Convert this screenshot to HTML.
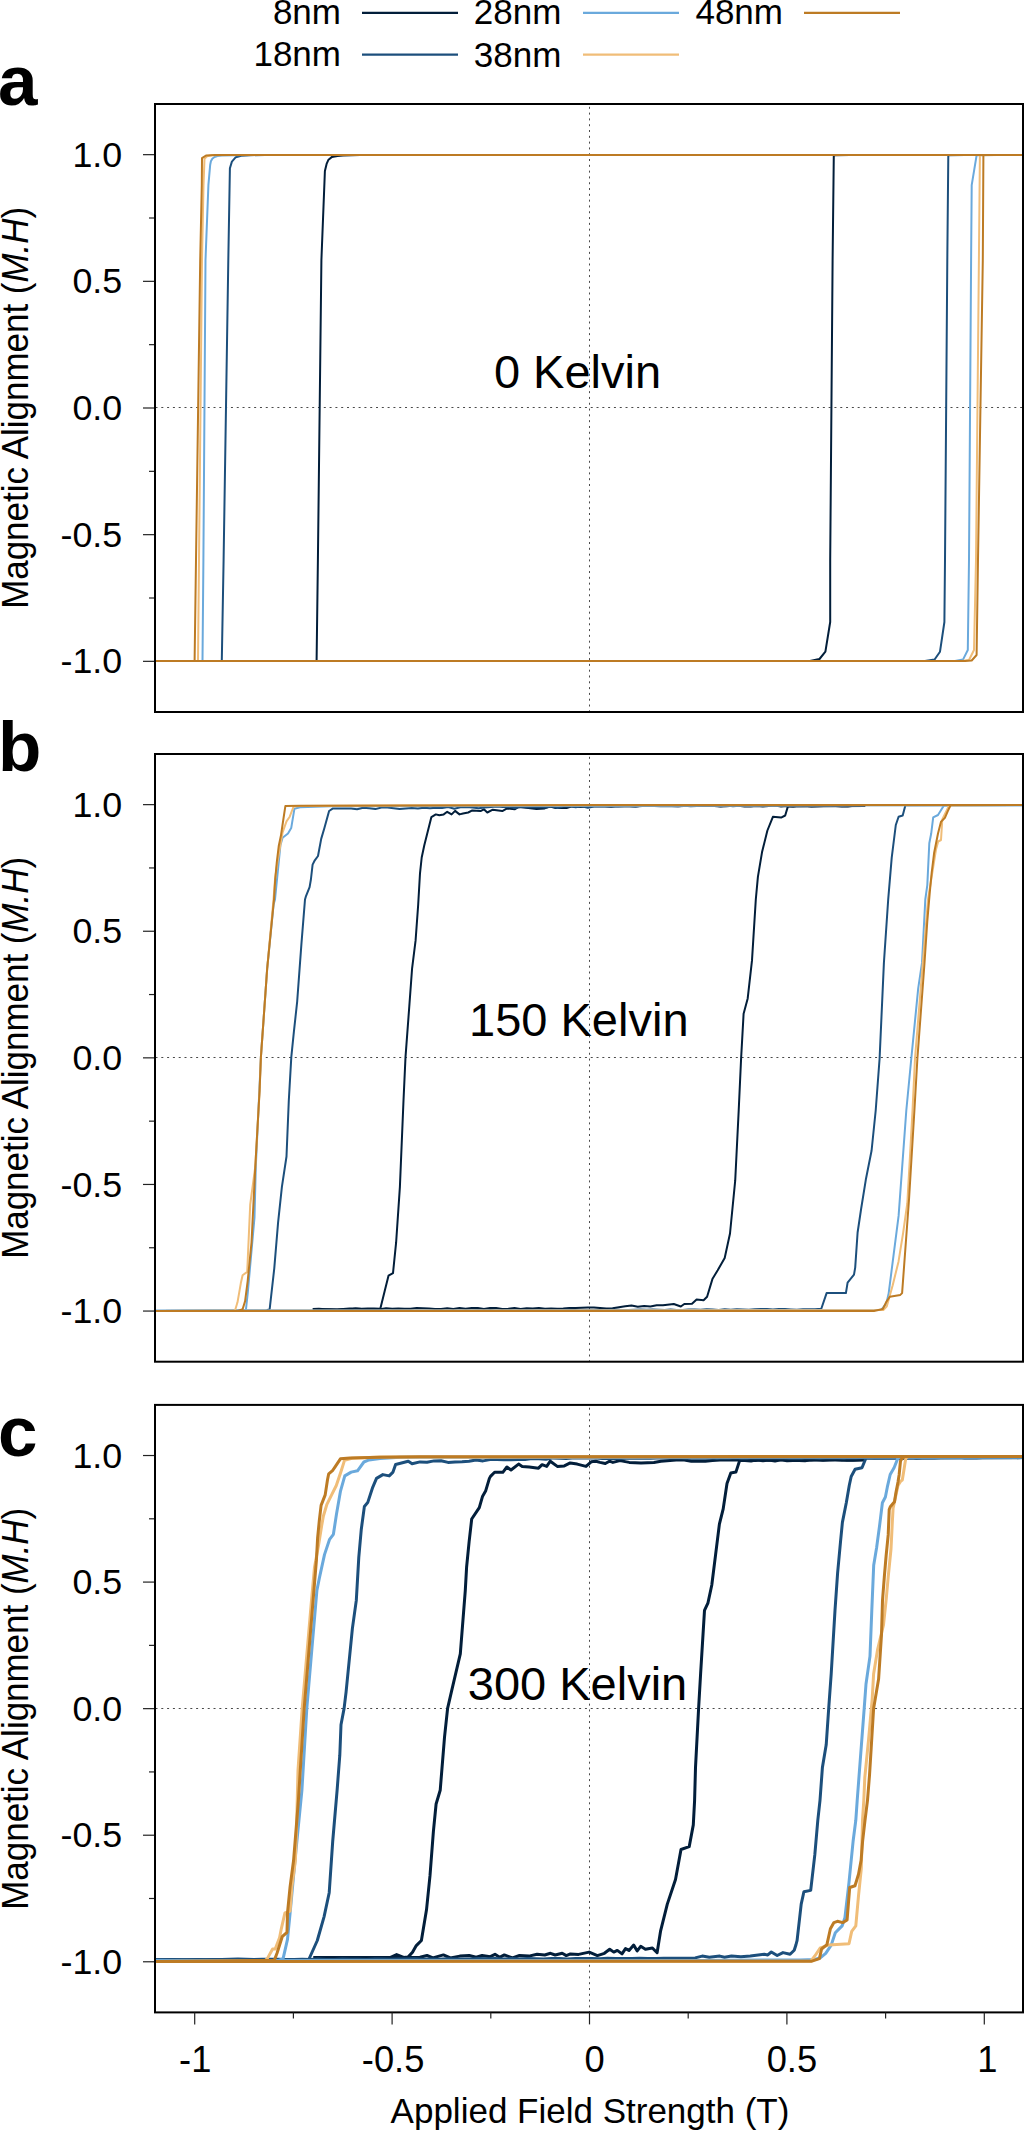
<!DOCTYPE html><html><head><meta charset="utf-8"><style>html,body{margin:0;padding:0;background:#fff;overflow:hidden;width:1025px;height:2131px;}svg{display:block;}text{font-family:'Liberation Sans', Arial, Helvetica, sans-serif;fill:#000;}</style></head><body>
<svg width="1025" height="2131" viewBox="0 0 1025 2131">
<rect width="1025" height="2131" fill="#fff"/>
<text x="341.0" y="24.0" font-size="35" text-anchor="end">8nm</text>
<line x1="362" y1="12.8" x2="458" y2="12.8" stroke="#021e3a" stroke-width="2.2"/>
<text x="341.0" y="66" font-size="35" text-anchor="end">18nm</text>
<line x1="362" y1="54.6" x2="458" y2="54.6" stroke="#1c4f7c" stroke-width="2.2"/>
<text x="561.3" y="24.4" font-size="35" text-anchor="end">28nm</text>
<line x1="583" y1="12.8" x2="679" y2="12.8" stroke="#6aa9dc" stroke-width="2.2"/>
<text x="561.3" y="66.5" font-size="35" text-anchor="end">38nm</text>
<line x1="583" y1="54.6" x2="679" y2="54.6" stroke="#f0bd78" stroke-width="2.2"/>
<text x="783.0" y="24.4" font-size="35" text-anchor="end">48nm</text>
<line x1="804" y1="12.8" x2="900" y2="12.8" stroke="#bd7b24" stroke-width="2.2"/>
<line x1="155.0" y1="407.5" x2="1023.0" y2="407.5" stroke="#4a4a4a" stroke-width="1" stroke-dasharray="2 3.803" stroke-dashoffset="-0.5"/>
<line x1="589.5" y1="104.0" x2="589.5" y2="712.0" stroke="#4a4a4a" stroke-width="1" stroke-dasharray="2 3.803" stroke-dashoffset="-2.8"/>
<text x="577.5" y="387.8" font-size="47" text-anchor="middle">0 Kelvin</text>
<polyline points="360.0,155.0 343.0,155.5 337.5,156.0 332.0,156.9 328.5,159.7 326.6,163.9 324.9,171.0 321.4,260.2 317.9,560.0 316.6,661.0 300.0,661.0" fill="none" stroke="#021e3a" stroke-width="2.0" stroke-linejoin="round" stroke-linecap="butt"/>
<polyline points="795.0,661.0 810.0,661.0 819.5,659.0 825.4,651.7 830.2,622.0 830.2,560.0 832.6,260.2 833.8,155.3 850.0,155.0" fill="none" stroke="#021e3a" stroke-width="2.0" stroke-linejoin="round" stroke-linecap="butt"/>
<polyline points="265.0,155.0 250.0,155.2 241.2,155.7 235.8,157.2 231.9,161.6 229.9,168.2 228.3,260.2 223.6,560.0 221.8,661.0 205.0,661.0" fill="none" stroke="#1c4f7c" stroke-width="2.0" stroke-linejoin="round" stroke-linecap="butt"/>
<polyline points="910.0,661.0 925.0,661.0 934.6,659.5 940.0,651.7 944.4,622.0 945.0,560.0 947.3,260.2 948.3,155.3 965.0,155.0" fill="none" stroke="#1c4f7c" stroke-width="2.0" stroke-linejoin="round" stroke-linecap="butt"/>
<polyline points="250.0,155.0 235.0,155.2 222.0,155.6 217.5,156.1 214.5,157.0 212.3,158.7 210.9,161.2 210.2,164.7 208.4,185.2 205.5,260.2 203.4,560.0 202.5,661.0 185.0,661.0" fill="none" stroke="#6aa9dc" stroke-width="2.0" stroke-linejoin="round" stroke-linecap="butt"/>
<polyline points="940.0,661.0 955.0,661.0 963.0,659.6 967.8,650.0 969.0,560.0 971.1,260.2 971.7,185.2 976.6,155.3 995.0,155.0" fill="none" stroke="#6aa9dc" stroke-width="2.0" stroke-linejoin="round" stroke-linecap="butt"/>
<polyline points="230.0,155.0 212.0,155.2 207.0,156.2 204.5,158.7 203.5,185.2 202.0,260.2 199.0,560.0 198.0,661.0 180.0,661.0" fill="none" stroke="#f0bd78" stroke-width="2.0" stroke-linejoin="round" stroke-linecap="butt"/>
<polyline points="945.0,661.0 962.0,661.0 969.0,660.0 974.0,650.0 976.0,560.0 978.9,260.2 979.9,155.3 998.0,155.0" fill="none" stroke="#f0bd78" stroke-width="2.0" stroke-linejoin="round" stroke-linecap="butt"/>
<polyline points="1023.0,155.0 215.0,155.0 206.0,155.5 202.0,158.2 201.8,185.2 200.2,260.2 196.0,560.0 194.6,661.0 155.5,661.0" fill="none" stroke="#bd7b24" stroke-width="2.0" stroke-linejoin="round" stroke-linecap="butt"/>
<polyline points="155.5,661.0 965.0,661.0 971.7,660.5 976.6,655.0 978.0,560.0 982.8,260.2 983.4,155.0 1023.0,155.0" fill="none" stroke="#bd7b24" stroke-width="2.0" stroke-linejoin="round" stroke-linecap="butt"/>
<line x1="143.0" y1="661.3333333333334" x2="155.0" y2="661.3333333333334" stroke="#222" stroke-width="1.2"/>
<text x="122.2" y="673.4333333333334" font-size="35.8" text-anchor="end">-1.0</text>
<line x1="149.0" y1="598.0" x2="155.0" y2="598.0" stroke="#222" stroke-width="1.2"/>
<line x1="143.0" y1="534.6666666666666" x2="155.0" y2="534.6666666666666" stroke="#222" stroke-width="1.2"/>
<text x="122.2" y="546.7666666666667" font-size="35.8" text-anchor="end">-0.5</text>
<line x1="149.0" y1="471.33333333333337" x2="155.0" y2="471.33333333333337" stroke="#222" stroke-width="1.2"/>
<line x1="143.0" y1="408.0" x2="155.0" y2="408.0" stroke="#222" stroke-width="1.2"/>
<text x="122.2" y="420.1" font-size="35.8" text-anchor="end">0.0</text>
<line x1="149.0" y1="344.6666666666667" x2="155.0" y2="344.6666666666667" stroke="#222" stroke-width="1.2"/>
<line x1="143.0" y1="281.3333333333333" x2="155.0" y2="281.3333333333333" stroke="#222" stroke-width="1.2"/>
<text x="122.2" y="293.43333333333334" font-size="35.8" text-anchor="end">0.5</text>
<line x1="149.0" y1="218.0" x2="155.0" y2="218.0" stroke="#222" stroke-width="1.2"/>
<line x1="143.0" y1="154.66666666666666" x2="155.0" y2="154.66666666666666" stroke="#222" stroke-width="1.2"/>
<text x="122.2" y="166.76666666666665" font-size="35.8" text-anchor="end">1.0</text>
<rect x="155.0" y="104.0" width="868.0" height="608.0" fill="none" stroke="#000" stroke-width="2.0"/>
<text x="-2" y="105.3" font-size="71" font-weight="bold">a</text>
<text transform="translate(27.8,407.85) rotate(-90)" font-size="37.5" text-anchor="middle" textLength="402" lengthAdjust="spacingAndGlyphs">Magnetic Alignment (<tspan font-style="italic">M.H</tspan>)</text>
<line x1="155.0" y1="1057.5" x2="1023.0" y2="1057.5" stroke="#4a4a4a" stroke-width="1" stroke-dasharray="2 3.803" stroke-dashoffset="-0.5"/>
<line x1="589.5" y1="754.0" x2="589.5" y2="1361.7" stroke="#4a4a4a" stroke-width="1" stroke-dasharray="2 3.803" stroke-dashoffset="-2.8"/>
<text x="578.8" y="1035.7" font-size="47" text-anchor="middle">150 Kelvin</text>
<polyline points="865.2,806.0 853.9,805.7 847.9,806.5 841.8,806.4 835.7,805.9 829.6,806.1 823.6,806.1 817.5,806.3 811.4,806.4 805.4,805.7 799.3,805.6 793.2,806.5 787.1,806.1 781.1,806.4 775.0,805.6 768.9,806.1 762.9,806.4 756.8,805.9 750.7,806.6 744.6,806.5 738.6,805.7 732.5,805.7 726.4,806.2 720.4,806.6 714.3,806.0 708.2,805.9 702.1,806.1 696.1,805.7 690.0,805.9 683.9,806.1 677.9,806.2 671.8,805.9 665.7,805.9 659.6,805.9 653.6,806.1 647.5,806.0 641.4,805.7 635.4,806.5 629.3,806.2 623.2,806.3 617.1,805.9 611.1,806.7 605.0,806.2 600.0,806.1 589.8,806.3 580.2,807.0 572.0,806.3 566.6,808.0 555.6,808.0 550.2,806.6 544.7,808.4 536.5,809.1 528.3,808.0 518.7,807.0 514.6,809.3 507.1,808.4 502.3,811.1 492.8,809.7 487.3,812.5 483.9,809.3 480.5,811.1 472.3,810.4 468.2,812.5 463.0,813.5 459.5,814.4 455.1,810.9 451.6,814.4 447.2,811.8 443.7,814.4 439.3,815.3 435.8,814.4 431.4,817.1 427.0,834.6 424.3,845.2 421.7,857.5 420.0,873.3 418.2,904.5 415.6,940.4 412.1,968.3 409.3,1006.3 405.5,1057.1 403.5,1100.5 399.9,1186.9 396.1,1242.7 393.0,1273.1 388.5,1275.7 384.7,1290.9 380.3,1308.7 373.9,1308.6 367.8,1308.5 361.7,1308.8 355.6,1308.6 349.5,1308.5 343.3,1308.9 337.2,1309.4 331.1,1309.3 325.0,1309.3 318.9,1308.8 312.8,1309.1" fill="none" stroke="#021e3a" stroke-width="2.0" stroke-linejoin="round" stroke-linecap="butt"/>
<polyline points="312.8,1309.1 318.9,1309.2 325.0,1309.3 331.1,1309.4 337.2,1309.5 343.4,1309.3 349.5,1309.5 355.6,1308.4 361.7,1308.9 367.8,1309.4 373.9,1309.0 380.0,1309.3 386.1,1308.3 392.2,1308.8 398.3,1308.5 404.5,1308.8 410.6,1308.8 416.7,1308.1 422.8,1308.3 428.9,1308.4 435.0,1309.1 441.1,1308.9 447.2,1308.2 453.3,1308.9 459.5,1308.1 465.6,1308.7 471.7,1308.0 477.8,1307.9 483.9,1308.9 490.0,1308.1 496.1,1308.1 502.2,1309.0 508.3,1308.8 514.5,1308.1 520.6,1308.9 526.7,1308.3 532.8,1308.5 538.9,1307.9 545.0,1308.7 551.1,1308.4 557.2,1308.7 563.3,1308.6 569.4,1307.9 575.6,1307.9 581.7,1307.7 587.8,1307.6 593.9,1307.5 600.0,1308.0 606.3,1308.4 612.6,1308.2 618.9,1307.2 625.2,1306.3 631.5,1305.5 637.8,1306.8 644.1,1306.0 650.4,1306.5 656.7,1305.3 663.0,1305.3 673.8,1304.0 680.8,1306.5 684.3,1304.0 692.0,1303.7 696.6,1299.5 703.6,1300.2 707.1,1296.7 712.4,1279.1 717.7,1270.3 724.7,1258.0 730.0,1233.5 735.2,1180.7 738.7,1110.5 741.1,1058.5 743.6,1013.7 747.7,998.4 752.0,960.4 755.8,899.5 757.9,876.9 762.0,852.3 767.4,830.5 772.9,816.8 781.1,817.6 785.2,815.5 787.9,806.4 865.2,806.0" fill="none" stroke="#021e3a" stroke-width="2.0" stroke-linejoin="round" stroke-linecap="butt"/>
<polyline points="1023.0,805.0 870.0,805.1 854.0,805.1 847.9,805.0 841.9,805.4 835.8,805.0 829.8,805.4 823.7,805.3 817.7,805.1 811.6,805.5 805.6,805.1 799.5,805.5 793.5,805.2 787.4,805.2 781.4,805.5 775.3,805.9 769.3,805.4 763.3,805.5 757.2,805.8 751.2,806.1 745.1,805.8 739.1,805.7 733.0,806.2 727.0,805.5 720.9,806.2 714.9,805.8 708.8,805.7 702.8,805.7 696.7,805.9 690.7,806.3 684.7,805.8 678.6,806.2 672.6,806.2 666.5,806.1 660.5,806.2 654.4,805.9 648.4,805.9 642.3,806.0 636.3,806.5 630.2,806.3 624.2,806.2 618.1,806.5 612.1,806.4 606.0,806.3 600.0,806.5 593.9,806.4 587.9,807.7 581.8,806.2 575.7,807.3 569.6,806.3 563.6,806.6 557.5,808.0 551.4,806.6 545.4,807.4 539.3,807.1 533.2,807.2 527.1,807.3 521.1,806.8 515.0,808.0 508.9,806.7 502.9,807.0 496.8,806.6 490.7,807.1 484.6,807.4 478.6,808.3 472.5,807.4 466.4,807.0 460.4,807.3 454.3,808.7 448.2,807.0 442.1,808.1 436.1,807.7 430.0,808.2 423.9,807.7 417.9,808.4 411.8,808.0 405.7,808.4 399.6,808.9 393.6,808.3 387.5,807.6 381.4,807.5 375.4,809.1 369.3,808.3 363.2,807.8 357.1,809.2 351.1,808.6 345.0,808.5 333.0,808.4 329.1,811.0 324.4,828.1 321.2,838.9 318.0,856.0 314.8,860.3 312.6,864.6 310.9,879.5 309.6,887.1 306.0,896.0 305.0,899.5 301.5,942.9 297.2,1001.3 293.9,1031.7 291.3,1057.1 288.8,1100.5 286.5,1156.5 281.9,1186.9 278.1,1222.4 274.3,1268.1 269.7,1308.9 266.0,1310.8 155.5,1310.9" fill="none" stroke="#1c4f7c" stroke-width="2.0" stroke-linejoin="round" stroke-linecap="butt"/>
<polyline points="155.5,1310.9 450.0,1310.7 466.0,1310.5 472.0,1310.4 478.1,1310.2 484.1,1310.7 490.1,1310.0 496.1,1310.4 502.1,1310.7 508.1,1310.0 514.2,1310.4 520.2,1310.4 526.2,1309.9 532.2,1310.2 538.2,1310.4 544.2,1310.2 550.3,1310.4 556.3,1309.9 562.3,1309.9 568.3,1309.8 574.3,1310.1 580.3,1310.4 586.4,1310.2 592.4,1310.3 598.4,1309.9 604.4,1310.2 610.4,1309.7 616.4,1309.8 622.5,1310.1 628.5,1310.1 634.5,1309.8 640.5,1309.6 646.5,1309.7 652.5,1309.6 658.6,1309.7 664.6,1310.1 670.6,1309.5 676.6,1310.1 682.6,1310.0 688.6,1309.4 694.7,1309.6 700.7,1309.7 706.7,1309.3 712.7,1309.6 718.7,1310.0 724.7,1309.3 730.8,1309.7 736.8,1309.3 742.8,1309.6 748.8,1309.8 754.8,1309.3 760.8,1309.1 766.9,1309.1 772.9,1309.5 778.9,1309.0 784.9,1309.1 790.9,1309.4 796.9,1309.7 803.0,1309.3 809.0,1309.2 815.0,1309.3 821.3,1308.8 826.6,1293.1 845.9,1293.1 847.6,1282.6 854.0,1274.6 855.2,1267.6 857.6,1232.5 861.1,1209.0 865.8,1179.8 871.6,1150.5 875.7,1110.5 879.6,1058.5 883.9,962.9 888.2,899.5 891.7,857.8 895.8,825.0 898.6,816.8 902.7,815.5 905.4,805.2 1023.0,805.0" fill="none" stroke="#1c4f7c" stroke-width="2.0" stroke-linejoin="round" stroke-linecap="butt"/>
<polyline points="1023.0,805.2 330.0,806.3 300.0,807.3 294.4,808.8 291.2,828.1 288.0,833.5 282.6,837.8 280.4,845.3 275.0,899.5 273.6,904.5 267.2,968.3 260.9,1057.1 258.9,1100.5 255.8,1166.5 254.5,1217.3 247.7,1293.5 245.9,1310.0 155.5,1310.7" fill="none" stroke="#6aa9dc" stroke-width="2.0" stroke-linejoin="round" stroke-linecap="butt"/>
<polyline points="155.5,1310.7 881.0,1310.1 886.3,1303.7 888.7,1293.1 898.6,1215.9 906.3,1110.5 911.3,1058.5 918.2,988.3 922.0,962.9 925.3,899.5 927.3,885.1 929.3,843.3 931.2,833.5 933.2,817.4 938.0,815.0 943.9,805.4 1023.0,805.2" fill="none" stroke="#6aa9dc" stroke-width="2.0" stroke-linejoin="round" stroke-linecap="butt"/>
<polyline points="1023.0,805.0 400.0,805.4 300.0,806.0 293.6,806.5 289.7,816.7 286.5,821.4 282.6,832.3 280.5,844.5 277.5,861.5 275.0,879.5 273.5,899.5 267.2,968.3 260.9,1057.1 259.6,1090.5 255.3,1166.5 250.2,1204.7 247.2,1271.9 242.6,1275.2 240.8,1283.3 237.5,1302.3 235.0,1310.5 155.5,1311.0" fill="none" stroke="#f0bd78" stroke-width="2.0" stroke-linejoin="round" stroke-linecap="butt"/>
<polyline points="155.5,1311.0 883.3,1310.0 886.8,1306.2 892.7,1285.2 898.5,1261.7 903.2,1232.5 907.3,1203.2 910.3,1150.5 912.5,1110.5 915.0,1058.5 928.0,899.5 936.0,849.5 938.2,841.5 941.0,840.0 942.3,819.5 949.1,805.5 1023.0,805.0" fill="none" stroke="#f0bd78" stroke-width="2.0" stroke-linejoin="round" stroke-linecap="butt"/>
<polyline points="1023.0,805.0 600.0,805.0 400.0,805.4 300.0,805.8 285.4,805.9 283.4,819.0 281.1,834.6 278.7,846.3 276.8,862.0 275.2,879.5 274.0,899.5 267.2,968.3 260.9,1057.1 259.6,1090.5 255.3,1166.6 251.5,1242.7 247.7,1280.8 245.1,1301.1 242.6,1309.2 238.0,1311.0 155.5,1311.0" fill="none" stroke="#bd7b24" stroke-width="2.0" stroke-linejoin="round" stroke-linecap="butt"/>
<polyline points="155.5,1311.0 874.0,1311.0 882.8,1309.0 886.3,1301.9 889.8,1296.7 900.3,1294.9 902.1,1293.1 909.1,1198.3 914.4,1110.5 917.4,1058.5 924.4,964.5 927.3,921.3 929.8,892.1 931.7,872.5 934.1,853.0 938.0,833.5 941.0,821.8 944.9,817.9 947.8,811.1 950.7,805.0 1023.0,805.0" fill="none" stroke="#bd7b24" stroke-width="2.0" stroke-linejoin="round" stroke-linecap="butt"/>
<line x1="143.0" y1="1311.0583333333334" x2="155.0" y2="1311.0583333333334" stroke="#222" stroke-width="1.2"/>
<text x="122.2" y="1323.1583333333333" font-size="35.8" text-anchor="end">-1.0</text>
<line x1="149.0" y1="1247.7562500000001" x2="155.0" y2="1247.7562500000001" stroke="#222" stroke-width="1.2"/>
<line x1="143.0" y1="1184.4541666666669" x2="155.0" y2="1184.4541666666669" stroke="#222" stroke-width="1.2"/>
<text x="122.2" y="1196.5541666666668" font-size="35.8" text-anchor="end">-0.5</text>
<line x1="149.0" y1="1121.1520833333334" x2="155.0" y2="1121.1520833333334" stroke="#222" stroke-width="1.2"/>
<line x1="143.0" y1="1057.85" x2="155.0" y2="1057.85" stroke="#222" stroke-width="1.2"/>
<text x="122.2" y="1069.9499999999998" font-size="35.8" text-anchor="end">0.0</text>
<line x1="149.0" y1="994.5479166666667" x2="155.0" y2="994.5479166666667" stroke="#222" stroke-width="1.2"/>
<line x1="143.0" y1="931.2458333333334" x2="155.0" y2="931.2458333333334" stroke="#222" stroke-width="1.2"/>
<text x="122.2" y="943.3458333333334" font-size="35.8" text-anchor="end">0.5</text>
<line x1="149.0" y1="867.94375" x2="155.0" y2="867.94375" stroke="#222" stroke-width="1.2"/>
<line x1="143.0" y1="804.6416666666667" x2="155.0" y2="804.6416666666667" stroke="#222" stroke-width="1.2"/>
<text x="122.2" y="816.7416666666667" font-size="35.8" text-anchor="end">1.0</text>
<rect x="155.0" y="754.0" width="868.0" height="607.7" fill="none" stroke="#000" stroke-width="2.0"/>
<text x="-2" y="771.2" font-size="71" font-weight="bold">b</text>
<text transform="translate(27.8,1057.85) rotate(-90)" font-size="37.5" text-anchor="middle" textLength="402" lengthAdjust="spacingAndGlyphs">Magnetic Alignment (<tspan font-style="italic">M.H</tspan>)</text>
<line x1="155.0" y1="1708.5" x2="1023.0" y2="1708.5" stroke="#4a4a4a" stroke-width="1" stroke-dasharray="2 3.803" stroke-dashoffset="-0.5"/>
<line x1="589.5" y1="1404.9" x2="589.5" y2="2012.4" stroke="#4a4a4a" stroke-width="1" stroke-dasharray="2 3.803" stroke-dashoffset="-2.8"/>
<text x="577.5" y="1699.6" font-size="47" text-anchor="middle">300 Kelvin</text>
<polyline points="865.0,1459.8 853.9,1459.9 847.7,1460.0 841.6,1460.3 835.5,1459.9 829.3,1459.9 823.2,1460.0 817.0,1459.6 810.9,1460.0 804.8,1460.1 798.6,1460.2 792.5,1459.5 786.4,1459.8 780.2,1459.5 774.1,1460.3 768.0,1460.2 761.8,1459.5 755.7,1460.5 749.5,1460.5 743.4,1460.1 737.3,1460.1 731.1,1459.7 725.0,1460.0 720.0,1460.0 712.4,1460.6 705.4,1461.2 691.3,1461.2 684.3,1460.0 676.1,1460.0 660.9,1461.2 653.9,1462.4 641.0,1462.9 629.3,1462.4 619.9,1460.6 612.9,1462.4 609.4,1461.2 605.3,1463.5 600.0,1462.4 595.9,1461.2 591.2,1461.8 586.0,1466.4 577.2,1464.1 570.2,1462.9 564.3,1465.9 557.3,1466.4 550.3,1461.2 546.7,1466.4 542.1,1464.7 538.5,1468.2 529.2,1467.0 522.2,1466.4 518.6,1464.1 511.0,1470.0 506.9,1467.0 502.8,1472.3 494.6,1472.3 490.5,1476.4 489.4,1478.4 485.6,1491.1 482.6,1496.2 479.3,1507.6 471.7,1519.0 469.1,1541.9 466.6,1567.2 465.3,1590.4 460.3,1653.8 451.4,1691.9 447.6,1708.4 444.5,1737.4 440.2,1790.3 436.1,1804.0 433.4,1831.3 430.0,1875.7 426.5,1909.8 421.4,1940.5 416.3,1945.6 412.5,1952.3 408.0,1957.1 403.7,1957.5 396.6,1954.6 390.0,1957.5 313.5,1957.6" fill="none" stroke="#021e3a" stroke-width="3.0" stroke-linejoin="round" stroke-linecap="butt"/>
<polyline points="313.5,1957.6 390.0,1957.5 403.7,1957.5 420.0,1957.3 427.0,1955.5 432.9,1957.9 443.4,1954.9 450.4,1957.9 459.8,1956.1 469.2,1955.5 476.2,1957.3 482.1,1955.5 490.3,1956.7 495.0,1954.3 499.6,1957.3 504.3,1954.9 512.5,1957.9 519.5,1955.5 528.9,1956.1 537.1,1954.3 544.7,1955.0 550.5,1953.3 555.2,1955.0 562.2,1953.3 566.3,1955.6 570.4,1953.9 578.6,1954.4 589.2,1952.1 597.4,1955.6 604.4,1953.3 609.7,1949.2 613.8,1952.1 617.3,1950.4 622.0,1953.9 625.5,1948.6 629.0,1950.4 633.7,1945.1 637.2,1950.9 640.7,1946.3 645.4,1949.2 652.4,1948.0 657.1,1952.7 660.5,1931.4 667.3,1904.1 675.5,1879.5 681.0,1849.5 689.2,1846.7 693.3,1824.9 694.6,1800.3 695.5,1767.6 698.6,1708.4 700.6,1673.8 704.5,1610.4 708.0,1602.8 711.8,1585.0 715.6,1554.6 719.4,1524.1 723.2,1508.9 727.0,1483.5 730.8,1472.9 735.9,1472.1 739.7,1460.4 745.0,1460.6 751.0,1461.1 757.0,1459.9 763.0,1460.8 769.0,1460.0 775.0,1461.0 781.0,1459.8 787.0,1460.7 793.0,1460.5 799.0,1460.6 805.0,1460.8 811.0,1459.8 817.0,1459.9 823.0,1460.3 829.0,1459.7 835.0,1459.6 841.0,1459.5 847.0,1460.3 853.0,1460.2 859.0,1460.1 865.0,1459.7" fill="none" stroke="#021e3a" stroke-width="3.0" stroke-linejoin="round" stroke-linecap="butt"/>
<polyline points="1023.0,1457.6 1007.0,1457.7 1000.9,1457.8 994.9,1457.8 988.8,1457.8 982.8,1457.8 976.8,1457.9 970.7,1457.7 964.7,1457.9 958.6,1457.6 952.6,1457.8 946.6,1457.8 940.5,1457.7 934.5,1458.0 928.4,1457.8 922.4,1458.1 916.4,1458.2 910.3,1457.8 904.3,1458.2 898.2,1458.1 892.2,1458.0 886.2,1457.7 880.1,1457.9 874.1,1458.0 868.0,1457.8 862.0,1457.8 856.0,1457.9 849.9,1457.8 843.9,1458.2 837.8,1457.9 831.8,1458.0 825.8,1458.1 819.7,1458.3 813.7,1457.9 807.6,1457.8 801.6,1458.3 795.6,1458.2 789.5,1458.2 783.5,1458.1 777.4,1457.9 771.4,1457.9 765.4,1458.0 759.3,1458.1 753.3,1457.8 747.2,1458.2 741.2,1458.2 735.2,1457.8 729.1,1458.3 723.1,1458.1 717.0,1458.4 711.0,1458.1 705.0,1458.3 698.9,1458.1 692.9,1458.2 686.8,1458.2 680.8,1457.9 674.8,1458.0 668.7,1458.0 662.7,1458.1 656.6,1458.1 650.6,1458.2 644.6,1458.3 638.5,1458.2 632.5,1458.1 626.4,1458.2 620.4,1458.5 614.4,1458.4 608.3,1458.3 602.3,1458.4 596.2,1458.1 590.2,1458.0 584.2,1458.0 578.1,1458.0 572.1,1458.0 566.0,1458.4 560.0,1458.3 553.0,1457.9 546.0,1459.3 539.0,1458.7 532.0,1458.5 525.0,1459.4 518.0,1459.6 511.0,1459.7 504.0,1459.8 497.0,1459.5 490.0,1459.6 483.0,1460.9 476.0,1460.1 469.0,1461.2 462.0,1461.7 455.0,1462.0 448.0,1462.4 441.0,1460.7 434.0,1460.9 427.0,1462.3 420.0,1461.9 412.1,1463.7 408.3,1461.2 395.6,1464.5 393.0,1472.1 389.2,1475.9 382.9,1474.6 376.5,1478.4 372.7,1487.3 367.7,1502.6 364.4,1506.4 361.3,1529.2 358.8,1557.1 356.3,1600.4 352.4,1628.4 346.1,1691.9 344.1,1708.4 341.0,1724.8 339.8,1755.2 337.1,1790.3 332.7,1841.5 329.2,1892.7 324.1,1916.6 317.3,1940.5 308.8,1959.5 155.5,1959.8" fill="none" stroke="#1c4f7c" stroke-width="3.0" stroke-linejoin="round" stroke-linecap="butt"/>
<polyline points="155.5,1959.7 173.5,1959.6 181.6,1959.7 189.6,1959.8 197.7,1959.4 205.7,1959.7 213.7,1959.6 221.8,1959.5 229.8,1959.2 237.9,1959.1 245.9,1959.3 253.9,1959.5 262.0,1959.2 270.0,1959.3 278.0,1959.2 286.1,1959.5 294.1,1959.5 302.2,1959.2 310.2,1959.5 318.2,1959.0 326.3,1959.4 334.3,1959.4 342.4,1958.9 350.4,1959.3 358.4,1959.2 366.5,1959.4 374.5,1958.9 382.6,1959.1 390.6,1959.3 398.6,1959.1 406.7,1958.9 414.7,1958.7 422.8,1959.2 430.8,1958.9 438.8,1959.2 446.9,1958.7 454.9,1959.1 462.9,1959.0 471.0,1959.1 479.0,1958.5 487.1,1958.7 495.1,1958.5 503.1,1958.9 511.2,1958.6 519.2,1959.0 527.3,1958.6 535.3,1958.8 543.3,1958.9 551.4,1958.5 559.4,1958.6 567.5,1958.9 575.5,1958.6 583.5,1958.5 591.6,1958.4 599.6,1958.7 607.6,1958.3 615.7,1958.5 623.7,1958.5 631.8,1958.5 639.8,1958.2 647.8,1958.5 655.9,1958.6 663.9,1958.2 672.0,1958.2 680.0,1958.3 695.2,1957.9 702.2,1956.1 709.3,1957.3 719.8,1956.1 724.5,1957.3 731.5,1956.1 740.9,1956.7 750.3,1956.1 764.3,1954.3 767.8,1954.9 771.3,1952.0 777.2,1955.5 783.0,1952.6 790.1,1954.3 794.2,1950.3 795.9,1945.0 797.1,1940.3 801.2,1904.1 803.9,1891.8 810.7,1890.4 814.8,1854.9 817.8,1820.3 820.0,1800.3 822.4,1767.6 826.2,1744.8 828.7,1708.4 831.2,1673.8 835.0,1610.4 837.6,1573.1 840.5,1541.9 842.4,1522.4 846.3,1502.8 849.3,1485.3 851.2,1476.5 855.1,1469.3 862.0,1467.7 865.9,1458.2 1023.0,1457.6" fill="none" stroke="#1c4f7c" stroke-width="3.0" stroke-linejoin="round" stroke-linecap="butt"/>
<polyline points="1023.0,1457.0 400.0,1457.2 380.0,1458.4 369.0,1459.9 363.9,1462.0 357.5,1470.8 351.2,1472.1 344.8,1475.9 340.5,1491.1 336.5,1514.0 333.4,1534.3 329.6,1539.3 324.5,1554.6 319.5,1577.4 316.9,1590.4 306.8,1708.4 301.9,1790.3 295.0,1860.3 290.1,1913.0 287.5,1939.3 283.1,1958.6 278.0,1960.6 155.5,1960.6" fill="none" stroke="#6aa9dc" stroke-width="3.0" stroke-linejoin="round" stroke-linecap="butt"/>
<polyline points="155.5,1960.6 700.0,1960.4 800.0,1959.9 815.0,1959.5 820.3,1957.8 825.7,1953.3 831.2,1945.1 835.3,1932.8 842.1,1925.9 844.9,1917.8 849.0,1882.3 853.1,1841.3 855.8,1820.3 857.2,1800.3 864.2,1708.4 866.0,1684.0 870.0,1656.1 871.8,1610.4 873.7,1565.3 876.6,1547.7 879.5,1526.3 882.4,1502.8 885.4,1497.0 887.3,1487.2 890.2,1474.5 894.1,1467.7 898.0,1457.9 900.0,1457.0 1023.0,1457.0" fill="none" stroke="#6aa9dc" stroke-width="3.0" stroke-linejoin="round" stroke-linecap="butt"/>
<polyline points="1023.0,1456.5 380.0,1457.0 352.0,1458.3 344.5,1460.4 341.0,1471.5 336.3,1485.5 331.6,1494.9 326.9,1504.3 323.4,1516.0 321.7,1525.4 318.5,1545.4 314.5,1567.2 311.5,1600.4 302.2,1708.4 298.0,1770.3 296.5,1830.3 295.4,1860.3 291.9,1886.6 290.1,1911.2 284.9,1913.0 281.3,1928.8 279.6,1937.6 275.2,1949.0 272.6,1949.0 267.3,1958.6 264.0,1961.3 155.5,1961.5" fill="none" stroke="#f0bd78" stroke-width="3.0" stroke-linejoin="round" stroke-linecap="butt"/>
<polyline points="155.5,1961.5 810.7,1961.1 814.8,1956.0 820.3,1947.8 828.5,1945.1 849.0,1943.7 851.7,1931.4 855.8,1925.9 858.5,1895.9 861.3,1868.6 862.5,1820.3 863.8,1800.3 864.8,1777.5 868.5,1740.3 872.2,1698.8 873.6,1674.1 877.6,1649.5 883.5,1624.9 886.1,1600.4 888.2,1577.2 891.0,1549.0 892.4,1520.8 893.1,1508.1 898.0,1485.4 900.5,1481.4 902.3,1480.0 903.7,1471.5 905.8,1458.1 908.0,1456.5 1023.0,1456.5" fill="none" stroke="#f0bd78" stroke-width="3.0" stroke-linejoin="round" stroke-linecap="butt"/>
<polyline points="1023.0,1456.5 420.0,1456.7 380.0,1457.3 350.0,1458.0 340.4,1458.8 335.1,1466.8 332.8,1470.3 328.7,1473.8 327.5,1479.7 325.2,1494.9 321.1,1505.4 319.3,1520.7 317.6,1538.2 316.4,1560.4 313.1,1600.4 304.2,1708.4 298.4,1800.3 293.6,1860.3 290.1,1886.6 287.5,1913.0 287.0,1932.3 282.2,1936.7 277.0,1953.3 274.3,1960.4 155.5,1961.5" fill="none" stroke="#bd7b24" stroke-width="3.0" stroke-linejoin="round" stroke-linecap="butt"/>
<polyline points="155.5,1961.5 812.0,1961.2 819.4,1958.6 821.6,1949.0 826.9,1944.6 830.4,1928.8 833.9,1922.6 837.4,1921.3 842.7,1922.6 847.1,1920.0 849.7,1887.5 855.0,1885.8 858.5,1874.3 861.1,1860.3 862.6,1841.3 865.0,1820.3 867.5,1800.3 869.5,1775.3 871.2,1747.9 873.6,1708.6 878.6,1679.1 881.5,1634.7 882.5,1600.4 884.3,1577.2 886.1,1556.0 888.2,1534.9 889.2,1509.6 890.3,1506.7 894.5,1501.8 895.9,1492.7 898.0,1482.1 899.1,1475.0 900.5,1461.0 902.3,1458.1 905.1,1456.5 1023.0,1456.5" fill="none" stroke="#bd7b24" stroke-width="3.0" stroke-linejoin="round" stroke-linecap="butt"/>
<line x1="143.0" y1="1961.775" x2="155.0" y2="1961.775" stroke="#222" stroke-width="1.2"/>
<text x="122.2" y="1973.875" font-size="35.8" text-anchor="end">-1.0</text>
<line x1="149.0" y1="1898.49375" x2="155.0" y2="1898.49375" stroke="#222" stroke-width="1.2"/>
<line x1="143.0" y1="1835.2125" x2="155.0" y2="1835.2125" stroke="#222" stroke-width="1.2"/>
<text x="122.2" y="1847.3125" font-size="35.8" text-anchor="end">-0.5</text>
<line x1="149.0" y1="1771.93125" x2="155.0" y2="1771.93125" stroke="#222" stroke-width="1.2"/>
<line x1="143.0" y1="1708.65" x2="155.0" y2="1708.65" stroke="#222" stroke-width="1.2"/>
<text x="122.2" y="1720.75" font-size="35.8" text-anchor="end">0.0</text>
<line x1="149.0" y1="1645.36875" x2="155.0" y2="1645.36875" stroke="#222" stroke-width="1.2"/>
<line x1="143.0" y1="1582.0875" x2="155.0" y2="1582.0875" stroke="#222" stroke-width="1.2"/>
<text x="122.2" y="1594.1875" font-size="35.8" text-anchor="end">0.5</text>
<line x1="149.0" y1="1518.80625" x2="155.0" y2="1518.80625" stroke="#222" stroke-width="1.2"/>
<line x1="143.0" y1="1455.525" x2="155.0" y2="1455.525" stroke="#222" stroke-width="1.2"/>
<text x="122.2" y="1467.625" font-size="35.8" text-anchor="end">1.0</text>
<rect x="155.0" y="1404.9" width="868.0" height="607.5" fill="none" stroke="#000" stroke-width="2.0"/>
<text x="-2" y="1456.3" font-size="71" font-weight="bold">c</text>
<text transform="translate(27.8,1708.75) rotate(-90)" font-size="37.5" text-anchor="middle" textLength="402" lengthAdjust="spacingAndGlyphs">Magnetic Alignment (<tspan font-style="italic">M.H</tspan>)</text>
<line x1="194.7" y1="2012.4" x2="194.7" y2="2024.4" stroke="#222" stroke-width="1.2"/>
<text x="195.2" y="2071.8" font-size="36.3" text-anchor="middle">-1</text>
<line x1="293.4" y1="2012.4" x2="293.4" y2="2018.4" stroke="#222" stroke-width="1.2"/>
<line x1="392.1" y1="2012.4" x2="392.1" y2="2024.4" stroke="#222" stroke-width="1.2"/>
<text x="393.1" y="2071.8" font-size="36.3" text-anchor="middle">-0.5</text>
<line x1="490.8" y1="2012.4" x2="490.8" y2="2018.4" stroke="#222" stroke-width="1.2"/>
<line x1="589.5" y1="2012.4" x2="589.5" y2="2024.4" stroke="#222" stroke-width="1.2"/>
<text x="594.5" y="2071.8" font-size="36.3" text-anchor="middle">0</text>
<line x1="688.2" y1="2012.4" x2="688.2" y2="2018.4" stroke="#222" stroke-width="1.2"/>
<line x1="786.9" y1="2012.4" x2="786.9" y2="2024.4" stroke="#222" stroke-width="1.2"/>
<text x="791.9" y="2071.8" font-size="36.3" text-anchor="middle">0.5</text>
<line x1="885.6" y1="2012.4" x2="885.6" y2="2018.4" stroke="#222" stroke-width="1.2"/>
<line x1="984.3" y1="2012.4" x2="984.3" y2="2024.4" stroke="#222" stroke-width="1.2"/>
<text x="987.3" y="2071.8" font-size="36.3" text-anchor="middle">1</text>
<text x="590" y="2122.7" font-size="35" text-anchor="middle">Applied Field Strength (T)</text>
</svg></body></html>
